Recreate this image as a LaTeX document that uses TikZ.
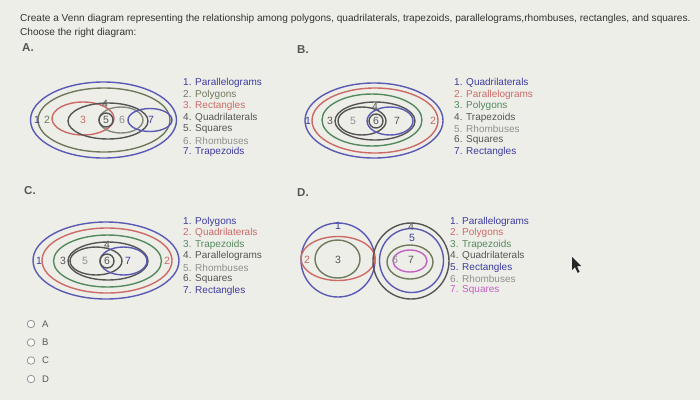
\documentclass[tikz,border=0pt]{standalone}
\usepackage{fontspec}
\setmainfont{Liberation Sans}
\definecolor{bgc}{HTML}{EEEEE9}
\definecolor{txt}{HTML}{333333}
\definecolor{cblue}{HTML}{5A5AB4}
\definecolor{tblue}{HTML}{3C3CA0}
\definecolor{cred}{HTML}{CC6A66}
\definecolor{colive}{HTML}{6F7A5C}
\definecolor{cgreen}{HTML}{548A5E}
\definecolor{cdark}{HTML}{555555}
\definecolor{clight}{HTML}{8E8E8E}
\definecolor{cmag}{HTML}{C460C4}
\begin{document}
\begin{tikzpicture}[x=1pt,y=-1pt,
  ring/.style={line width=1.4pt},
  lbl/.style={font=\fontsize{10.5}{12}\selectfont, inner sep=0pt},
  leg/.style={font=\fontsize{10}{12}\selectfont, anchor=west, inner sep=0pt},
  hdr/.style={font=\fontsize{10.1}{11}\selectfont, anchor=west, inner sep=0pt, text=txt},
  opt/.style={font=\fontsize{9.5}{11}\selectfont, anchor=west, inner sep=0pt, text=cdark},
  radio/.style={draw=clight, fill=white!60!bgc, line width=0.7pt}]
\fill[bgc] (0,0) rectangle (700,400);
\useasboundingbox (0,0) rectangle (700,400);

% header
\node[hdr] (title) at (20,19) {Create a Venn diagram representing the relationship among polygons, quadrilaterals, trapezoids, parallelograms,rhombuses, rectangles, and squares.};
\node[hdr] (choose) at (20,33) {Choose the right diagram:};
\node[hdr, font=\fontsize{11.5}{12}\selectfont\bfseries, text=cdark] (labA) at (22,48) {A.};
\node[hdr, font=\fontsize{11.5}{12}\selectfont\bfseries, text=cdark] (labB) at (297,50) {B.};
\node[hdr, font=\fontsize{11.5}{12}\selectfont\bfseries, text=cdark] (labC) at (24,191) {C.};
\node[hdr, font=\fontsize{11.5}{12}\selectfont\bfseries, text=cdark] (labD) at (297,193) {D.};

% ---------- Diagram A ----------
\draw[ring, cblue] (103.5,120) ellipse [x radius=73pt, y radius=38pt];
\draw[ring, colive] (104,120) ellipse [x radius=66pt, y radius=32pt];
\draw[ring, cred] (83,118.5) ellipse [x radius=31pt, y radius=16.5pt];
\draw[ring, cdark] (108,121) ellipse [x radius=40pt, y radius=18pt];
\draw[ring, clight!70!colive] (121,120) ellipse [x radius=22pt, y radius=13pt];
\draw[ring, cblue] (150,120) ellipse [x radius=22pt, y radius=11.5pt];
\draw[ring, cdark] (106,120) circle [radius=7pt];
\node[lbl, text=tblue] (a1) at (37,120) {1};
\node[lbl, text=colive] (a2) at (47,120) {2};
\node[lbl, text=cred] (a3) at (83,120) {3};
\node[lbl, text=cdark] (a4) at (105,104) {4};
\node[lbl, text=cdark] (a5) at (106,120) {5};
\node[lbl, text=clight] (a6) at (122,120) {6};
\node[lbl, text=tblue] (a7) at (151,120) {7};
\node[leg, text=tblue] (la1) at (183,83) {1. Parallelograms};
\node[leg, text=colive] (la2) at (183,94.5) {2. Polygons};
\node[leg, text=cred] (la3) at (183,106) {3. Rectangles};
\node[leg, text=cdark] (la4) at (183,117.5) {4. Quadrilaterals};
\node[leg, text=cdark] (la5) at (183,129) {5. Squares};
\node[leg, text=clight] (la6) at (183,140.5) {6. Rhombuses};
\node[leg, text=tblue] (la7) at (183,152) {7. Trapezoids};

% ---------- Diagram B ----------
\draw[ring, cblue] (374,120.5) ellipse [x radius=69pt, y radius=37.5pt];
\draw[ring, cred] (375,120.5) ellipse [x radius=63pt, y radius=32.5pt];
\draw[ring, cgreen] (372,120) ellipse [x radius=50pt, y radius=26pt];
\draw[ring, cdark] (375,121) ellipse [x radius=40pt, y radius=19pt];
\draw[ring, cdark] (362,121) ellipse [x radius=24pt, y radius=14pt];
\draw[ring, cblue] (390,121) ellipse [x radius=23pt, y radius=14pt];
\draw[ring, cdark] (376,121) circle [radius=7pt];
\node[lbl, text=tblue] (b1) at (308,121) {1};
\node[lbl, text=cred] (b2) at (433,121) {2};
\node[lbl, text=cdark] (b3) at (330,121) {3};
\node[lbl, text=cdark] (b4) at (375,107) {4};
\node[lbl, text=clight] (b5) at (353,121) {5};
\node[lbl, text=cdark] (b6) at (376,121) {6};
\node[lbl, text=cdark] (b7) at (397,121) {7};
\node[leg, text=tblue] (lb1) at (454,83) {1. Quadrilaterals};
\node[leg, text=cred] (lb2) at (454,94.5) {2. Parallelograms};
\node[leg, text=cgreen] (lb3) at (454,106) {3. Polygons};
\node[leg, text=cdark] (lb4) at (454,117.5) {4. Trapezoids};
\node[leg, text=clight] (lb5) at (454,129) {5. Rhombuses};
\node[leg, text=cdark] (lb6) at (454,140.5) {6. Squares};
\node[leg, text=tblue] (lb7) at (454,152) {7. Rectangles};

% ---------- Diagram C ----------
\draw[ring, cblue] (106,260.5) ellipse [x radius=73pt, y radius=38.5pt];
\draw[ring, cred] (107,260.5) ellipse [x radius=65pt, y radius=32.5pt];
\draw[ring, cgreen] (107.5,261) ellipse [x radius=54pt, y radius=26pt];
\draw[ring, cdark] (108,261) ellipse [x radius=40pt, y radius=19pt];
\draw[ring, cdark] (96,261) ellipse [x radius=26pt, y radius=14pt];
\draw[ring, cblue] (123.5,261) ellipse [x radius=23.5pt, y radius=14pt];
\draw[ring, cdark] (107,261) circle [radius=7pt];
\node[lbl, text=tblue] (c1) at (39,261) {1};
\node[lbl, text=cred] (c2) at (167,261) {2};
\node[lbl, text=cdark] (c3) at (63,261) {3};
\node[lbl, text=cdark] (c4) at (107,245) {4};
\node[lbl, text=clight] (c5) at (85,261) {5};
\node[lbl, text=cdark] (c6) at (107,261) {6};
\node[lbl, text=tblue] (c7) at (128,261) {7};
\node[leg, text=tblue] (lc1) at (183,221.5) {1. Polygons};
\node[leg, text=cred] (lc2) at (183,233) {2. Quadrilaterals};
\node[leg, text=cgreen] (lc3) at (183,244.5) {3. Trapezoids};
\node[leg, text=cdark] (lc4) at (183,256) {4. Parallelograms};
\node[leg, text=clight] (lc5) at (183,267.5) {5. Rhombuses};
\node[leg, text=cdark] (lc6) at (183,279) {6. Squares};
\node[leg, text=tblue] (lc7) at (183,290.5) {7. Rectangles};

% ---------- Diagram D ----------
\draw[ring, cblue] (338,260) circle [radius=37pt];
\draw[ring, cred] (338,258.5) ellipse [x radius=37pt, y radius=22pt];
\draw[ring, colive] (337.5,259) ellipse [x radius=22.5pt, y radius=19pt];
\draw[ring, cdark] (411,261) circle [radius=38pt];
\draw[ring, cblue] (411.5,260.5) circle [radius=32pt];
\draw[ring, colive] (410,262) ellipse [x radius=23pt, y radius=17pt];
\draw[ring, cmag] (410,261) ellipse [x radius=17pt, y radius=11pt];
\node[lbl, text=tblue] (d1) at (338,226) {1};
\node[lbl, text=cred] (d2) at (307,260) {2};
\node[lbl, text=cdark] (d3) at (338,260) {3};
\node[lbl, text=cdark] (d4) at (411,227) {4};
\node[lbl, text=tblue] (d5) at (412,238) {5};
\node[lbl, text=clight] (d6) at (395,260) {6};
\node[lbl, text=cdark] (d7) at (411,260) {7};
\node[leg, text=tblue] (ld1) at (450,221.5) {1. Parallelograms};
\node[leg, text=cred] (ld2) at (450,233) {2. Polygons};
\node[leg, text=cgreen] (ld3) at (450,244.5) {3. Trapezoids};
\node[leg, text=cdark] (ld4) at (450,256) {4. Quadrilaterals};
\node[leg, text=tblue] (ld5) at (450,267.5) {5. Rectangles};
\node[leg, text=clight] (ld6) at (450,279) {6. Rhombuses};
\node[leg, text=cmag] (ld7) at (450,290.5) {7. Squares};

% mouse pointer
\fill[black!85] (572,257) -- (572,270) -- (575,267.2) -- (577.6,272.8) -- (579.6,271.9) -- (577,266.3) -- (581,266) -- cycle;

% answer options
\draw[radio] (31,324) circle [radius=3.8pt];
\draw[radio] (31,342.5) circle [radius=3.8pt];
\draw[radio] (31,360.5) circle [radius=3.8pt];
\draw[radio] (31,379) circle [radius=3.8pt];
\node[opt] (oA) at (42,324) {A};
\node[opt] (oB) at (42,342.5) {B};
\node[opt] (oC) at (42,360.5) {C};
\node[opt] (oD) at (42,379) {D};
\end{tikzpicture}
\end{document}
